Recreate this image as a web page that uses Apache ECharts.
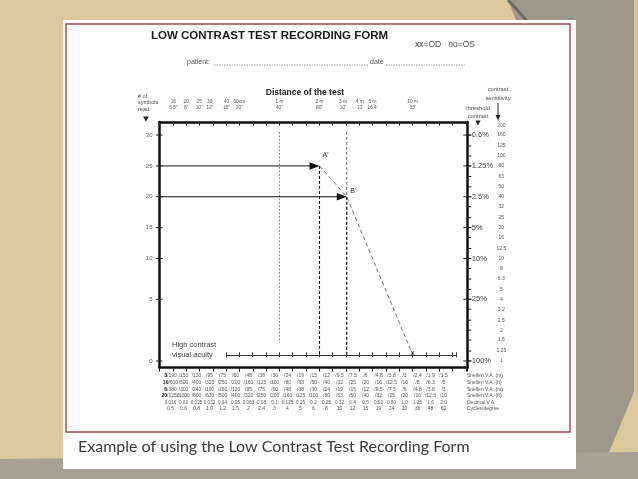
<!DOCTYPE html>
<html><head><meta charset="utf-8">
<script src="https://cdn.jsdelivr.net/npm/echarts@6/dist/echarts.min.js"></script>
<style>html,body{margin:0;padding:0;background:#dbc89b;}#c{width:638px;height:479px;}</style>
</head><body><div id="c"></div>
<script>
// ---------- data read from the form ----------
const symbolsRead = [30, 25, 20, 15, 10, 5, 0];
const thresholdSensitivity = [160, 80, 40, 20, 10, 4, 1];
const thresholdContrast = ['0.6%', '1.25%', '2.5%', '5%', '10%', '25%', '100%'];
const sensitivityScale = [200,160,125,100,80,63,50,40,32,25,20,16,12.5,10,8,6.3,5,4,3.2,2.5,2,1.6,1.25,1];

const distanceCm = [16, 20, 25, 30, 40, 50, 100, 200, 300, 400, 500, 1000];
const distanceMetric = ['16', '20', '25', '30', '40', '50cm', '1 m', '2 m', '3 m', '4 m', '5 m', '10 m'];
const distanceImperial = ['6.5"', '8"', '10"', '12"', '16"', '20"', '40"', '80"', "10'", '13', "16.4'", "33'"];

const referenceLineCm = [100, 320];
const referenceLineTopSens = [172, 172];
const referenceLineBottomSens = [1.5, 1.15];

const highContrastLevel = 1.15;
const pointNames = ["A'", "B'", 'x'];
const pointDistanceCm = [200, 320, 1000];
const pointSensitivity = [80, 40, 1.15];

const snellenNumerators = [3, 10, 6, 20];
const snellen3m  = ['190','150','120','95','75','60','48','38','30','24','19','15','12','9.5','7.5','6','4.8','3.8','3','2.4','1.9','1.5'];
const snellen10ft = ['600','500','400','320','250','200','160','125','100','80','63','50','40','32','25','20','16','12.5','10','8','6.3','5'];
const snellen6m  = ['380','300','240','190','150','120','95','75','60','48','38','30','24','19','15','12','9.5','7.5','6','4.8','3.8','3'];
const snellen20ft = ['1250','1000','800','630','500','400','320','250','200','160','125','100','80','63','50','40','32','25','20','16','12.5','10'];
const decimalVA = ['0.016','0.02','0.025','0.032','0.04','0.05','0.063','0.08','0.1','0.125','0.16','0.2','0.25','0.32','0.4','0.5','0.63','0.80','1.0','1.25','1.6','2.0'];
const cyclesPerDegree = ['0.5','0.6','0.8','1.0','1.2','1.5','2','2.4','3','4','5','6','8','10','12','15','19','24','30','38','48','60'];
const rowNames = ['Snellen V.A. (m)', 'Snellen V.A. (ft)', 'Snellen V.A. (m)', 'Snellen V.A. (ft)', 'Decimal V.A.', 'Cycles/degree'];

// ---------- helpers ----------
const FONT = 'Liberation Sans';
const tableRows = [snellen3m, snellen10ft, snellen6m, snellen20ft, decimalVA, cyclesPerDegree];
function txt(x, y, text, size, o) {
  return { type: 'text', x: x, y: y, silent: true, z2: 10,
    style: Object.assign({ text: text, fill: '#4a4a4a', fontSize: size, fontFamily: FONT,
      align: 'center', verticalAlign: 'middle' }, o || {}) };
}
function seg(x1, y1, x2, y2, stroke, w, dash) {
  const s = { stroke: stroke, lineWidth: w };
  if (dash) s.lineDash = dash;
  return { type: 'line', silent: true, shape: { x1: x1, y1: y1, x2: x2, y2: y2 }, style: s };
}
function G(x, y, text, size, o) { const t = txt(x, y, text, size, o); t.z = 20; return t; }

const tableCells = [];
tableRows.forEach((row, r) => row.forEach((v, c) => tableCells.push([c, r])));

const chart = echarts.init(document.getElementById('c'), null, { renderer: 'canvas' });

const axisBlack = { color: '#111', width: 2.5 };
const hiddenBits = { axisLabel: { show: false }, splitLine: { show: false } };

const option = {
  animation: false,
  backgroundColor: '#dbc89b',
  graphic: { elements: [
    { type: 'polygon', z: -100, silent: true, shape: { points: [[508,0],[634,0],[634,392],[598,479],[520,479],[520,30]] }, style: { fill: '#9e988b' } },
    { type: 'line', z: -99, silent: true, shape: { x1: 508, y1: 0, x2: 530, y2: 24 }, style: { stroke: '#6f6a60', lineWidth: 3 } },
    { type: 'polygon', z: -100, silent: true, shape: { points: [[0,459],[638,452],[638,479],[0,479]] }, style: { fill: '#a7a194' } },
    { type: 'rect', z: -90, silent: true, shape: { x: 63, y: 20, width: 513, height: 449 }, style: { fill: '#ffffff' } },
    { type: 'rect', z: -89, silent: true, shape: { x: 66, y: 24, width: 504, height: 408 }, style: { fill: 'none', stroke: '#9e4650', lineWidth: 1.4 } },
    G(151, 36, 'LOW CONTRAST TEST RECORDING FORM', 11.5, { fontWeight: 'bold', fill: '#1a1a1a', align: 'left' }),
    G(415, 44.5, 'xx=OD   oo=OS', 8.5, { align: 'left', fill: '#444' }),
    G(187, 62.5, 'patient:', 7, { align: 'left', fill: '#555' }),
    { type: 'line', z: 20, silent: true, shape: { x1: 214, y1: 65, x2: 368, y2: 65 }, style: { stroke: '#888', lineWidth: 0.8, lineDash: [1.5, 1] } },
    G(370, 62.5, 'date', 7, { align: 'left', fill: '#555' }),
    { type: 'line', z: 20, silent: true, shape: { x1: 386, y1: 65, x2: 466, y2: 65 }, style: { stroke: '#888', lineWidth: 0.8, lineDash: [1.5, 1] } },
    G(305, 92.5, 'Distance of the test', 8.5, { fontWeight: 'bold', fill: '#222' }),
    G(138, 96, '# of', 5.5, { align: 'left' }),
    G(138, 102.5, 'symbols', 5.5, { align: 'left' }),
    G(138, 109, 'read', 5.5, { align: 'left' }),
    { type: 'polygon', z: 20, silent: true, shape: { points: [[143,116.5],[149,116.5],[146,121.5]] }, style: { fill: '#222' } },
    G(498, 89, 'contrast', 5.8),
    G(498, 98.5, 'sensitivity', 5.8),
    { type: 'line', z: 20, silent: true, shape: { x1: 498, y1: 103, x2: 498, y2: 116 }, style: { stroke: '#222', lineWidth: 1 } },
    { type: 'polygon', z: 20, silent: true, shape: { points: [[495.5,115],[500.5,115],[498,120.5]] }, style: { fill: '#222' } },
    G(478, 108.5, 'threshold', 5.8),
    G(478, 116.5, 'contrast', 5.8),
    { type: 'polygon', z: 20, silent: true, shape: { points: [[475.5,120.5],[480.5,120.5],[478,125.5]] }, style: { fill: '#222' } },
    G(172, 345, 'High contrast', 7.5, { align: 'left', fill: '#444' }),
    G(172, 355, 'visual acuity', 7.5, { align: 'left', fill: '#444' }),
    G(78, 447, 'Example of using the Low Contrast Test Recording Form', 16, { align: 'left', fill: '#3a3a3a', fontFamily: 'Lato' })
  ] },
  grid: [
    { left: 159.5, top: 122, width: 307.8, height: 245.5, containLabel: false, outerBoundsMode: 'none' },
    { left: 226.1, top: 353.8, width: 230.5, height: 1, containLabel: false, outerBoundsMode: 'none' },
    { left: 164, top: 372.7, width: 286, height: 39.6, containLabel: false, outerBoundsMode: 'none' }
  ],
  xAxis: [
    { gridIndex: 0, type: 'log', logBase: 10, min: 12.589, max: 2570.4, position: 'bottom', show: false, axisLine: { onZero: false } },
    Object.assign({ gridIndex: 0, type: 'value', position: 'top', min: -1, max: 22.1, interval: 1,
      axisLine: { show: true, onZero: false, lineStyle: axisBlack },
      axisTick: { show: true, inside: true, length: 3.5, lineStyle: { color: '#222', width: 1 } } }, hiddenBits),
    Object.assign({ gridIndex: 0, type: 'value', position: 'bottom', min: -1, max: 22.1, interval: 1,
      axisLine: { show: true, onZero: false, lineStyle: axisBlack },
      axisTick: { show: true, inside: false, length: 4, lineStyle: { color: '#222', width: 1 } } }, hiddenBits),
    Object.assign({ gridIndex: 1, type: 'value', position: 'bottom', min: 4, max: 21.3, interval: 1,
      axisLine: { show: true, onZero: false, lineStyle: { color: '#333', width: 1 } },
      axisTick: { show: true, inside: false, length: 2.5, lineStyle: { color: '#333', width: 1 } } }, hiddenBits),
    Object.assign({ gridIndex: 1, type: 'value', position: 'bottom', min: 4, max: 21.3, interval: 1,
      axisLine: { show: false, onZero: false },
      axisTick: { show: true, inside: true, length: 2.5, lineStyle: { color: '#333', width: 1 } } }, hiddenBits),
    { gridIndex: 2, type: 'value', min: -0.5, max: 21.5, show: false, axisLine: { onZero: false } }
  ],
  yAxis: [
    Object.assign({ gridIndex: 0, type: 'log', logBase: 10, min: 0.864, max: 214.6, position: 'left',
      axisLine: { show: true, onZero: false, lineStyle: axisBlack }, axisTick: { show: false } }, hiddenBits),
    Object.assign({ gridIndex: 0, type: 'log', logBase: 10, min: 0.864, max: 214.6, position: 'right',
      axisLine: { show: true, onZero: false, lineStyle: axisBlack }, axisTick: { show: false } }, hiddenBits),
    { gridIndex: 1, type: 'value', min: 0, max: 1, show: false, axisLine: { onZero: false } },
    { gridIndex: 2, type: 'value', min: -0.5, max: 5.5, inverse: true, show: false, axisLine: { onZero: false } }
  ],
  series: [
    { // left "# of symbols" and right threshold contrast labels
      type: 'custom', name: 'threshold', xAxisIndex: 0, yAxisIndex: 0, clip: false, silent: true, z: 5,
      data: thresholdSensitivity.map(s => [100, s]),
      renderItem(params, api) {
        const i = params.dataIndex, cs = params.coordSys;
        const y = api.coord([100, api.value(1)])[1];
        const L = cs.x, R = cs.x + cs.width;
        return { type: 'group', children: [
          seg(L - 3.5, y, L + 3, y, '#222', 1),
          txt(L - 7, y, String(symbolsRead[i]), 6, { align: 'right', fill: '#555' }),
          seg(R - 4, y, R + 4, y, '#222', 1),
          txt(R + 4.5, y, thresholdContrast[i], 7.5, { align: 'left', fill: '#444' })
        ] };
      }
    },
    { // contrast sensitivity scale
      type: 'custom', name: 'sensitivity', xAxisIndex: 0, yAxisIndex: 0, clip: false, silent: true, z: 5,
      data: sensitivityScale.map(s => [100, s]),
      renderItem(params, api) {
        const i = params.dataIndex, cs = params.coordSys;
        const s = api.value(1);
        const y = api.coord([100, s])[1];
        const R = cs.x + cs.width;
        const ch = [txt(R + 34, y, String(sensitivityScale[i]), 5, { fill: '#555' })];
        if (s <= 160) ch.push(seg(R, y, R + 4, y, '#222', 1));
        return { type: 'group', children: ch };
      }
    },
    { // distance labels on top
      type: 'custom', name: 'distance', xAxisIndex: 0, yAxisIndex: 0, clip: false, silent: true, z: 5,
      data: distanceCm.map(d => [d, 100]),
      renderItem(params, api) {
        const i = params.dataIndex, cs = params.coordSys;
        const x = api.coord([api.value(0), 100])[0];
        return { type: 'group', children: [
          txt(x, cs.y - 20.5, distanceMetric[i], 4.8, { fill: '#555' }),
          txt(x, cs.y - 14.8, distanceImperial[i], 4.8, { fill: '#555' })
        ] };
      }
    },
    { // dashed reference lines of the form (1 m, 3 m)
      type: 'custom', name: 'reference', xAxisIndex: 0, yAxisIndex: 0, clip: false, silent: true, z: 3,
      data: referenceLineCm.map((d, i) => [d, referenceLineTopSens[i], referenceLineBottomSens[i]]),
      renderItem(params, api) {
        const i = params.dataIndex;
        const p1 = api.coord([api.value(0), api.value(1)]);
        const p2 = api.coord([api.value(0), api.value(2)]);
        return i === 0 ? seg(p1[0], p1[1], p2[0], p2[1], '#8a8a8a', 1, [2, 1.5])
                       : seg(p1[0], p1[1], p2[0], p2[1], '#666', 1, [3, 2]);
      }
    },
    { // drop lines from measured points to the high contrast line
      type: 'custom', name: 'drop', xAxisIndex: 0, yAxisIndex: 0, clip: false, silent: true, z: 4,
      data: pointDistanceCm.slice(0, 2).map((d, i) => [d, pointSensitivity[i]]),
      renderItem(params, api) {
        const p = api.coord([api.value(0), api.value(1)]);
        const b = api.coord([api.value(0), highContrastLevel]);
        return seg(p[0], p[1], b[0], b[1], '#111', 1, [3, 2]);
      }
    },
    { // arrows from the # of symbols axis
      type: 'custom', name: 'arrows', xAxisIndex: 0, yAxisIndex: 0, clip: false, silent: true, z: 6,
      data: pointDistanceCm.slice(0, 2).map((d, i) => [d, pointSensitivity[i]]),
      renderItem(params, api) {
        const cs = params.coordSys;
        const p = api.coord([api.value(0), api.value(1)]);
        return { type: 'group', children: [
          seg(cs.x, p[1], p[0] - 8, p[1], '#111', 1),
          { type: 'polygon', silent: true, shape: { points: [[p[0] - 10, p[1] - 3.7], [p[0], p[1]], [p[0] - 10, p[1] + 3.7]] }, style: { fill: '#111' } }
        ] };
      }
    },
    { // curve through the measured points
      type: 'line', name: 'result', xAxisIndex: 0, yAxisIndex: 0, silent: true, z: 4,
      symbol: 'none',
      lineStyle: { color: '#707070', width: 1, type: [4, 3] },
      data: pointDistanceCm.map((d, i) => [d, pointSensitivity[i]])
    },
    { // point names
      type: 'custom', name: 'pointNames', xAxisIndex: 0, yAxisIndex: 0, clip: false, silent: true, z: 7,
      data: pointDistanceCm.map((d, i) => [d, pointSensitivity[i]]),
      renderItem(params, api) {
        const i = params.dataIndex;
        const p = api.coord([api.value(0), api.value(1)]);
        if (i === 0) return txt(p[0] + 6, p[1] - 11, pointNames[i], 7, { fill: '#333' });
        if (i === 1) return txt(p[0] + 6.5, p[1] - 6, pointNames[i], 7, { fill: '#333' });
        return txt(p[0], p[1] - 1.5, pointNames[i], 8, { fill: '#222' });
      }
    },
    { // visual acuity table
      type: 'custom', name: 'table', xAxisIndex: 5, yAxisIndex: 3, clip: false, silent: true, z: 5,
      data: tableCells,
      renderItem(params, api) {
        const c = api.value(0), r = api.value(1);
        const p = api.coord([c, r]);
        const v = tableRows[r][c];
        if (r < 4) {
          const t = c === 0 ? '{b|' + snellenNumerators[r] + '}/' + v : '/' + v;
          return txt(p[0], p[1], t, 5, { fill: '#555', rich: { b: { fontWeight: 'bold', fill: '#111', fontSize: 5, fontFamily: FONT } } });
        }
        return txt(p[0], p[1], v, r === 4 ? 4.6 : 5, { fill: '#555' });
      }
    },
    { // table row names
      type: 'custom', name: 'rowNames', xAxisIndex: 5, yAxisIndex: 3, clip: false, silent: true, z: 5,
      data: rowNames.map((n, r) => [21, r]),
      renderItem(params, api) {
        const cs = params.coordSys;
        const p = api.coord([api.value(0), api.value(1)]);
        return txt(cs.x + cs.width + 17, p[1], rowNames[params.dataIndex], 5, { align: 'left', fill: '#555' });
      }
    }
  ]
};
chart.setOption(option);
</script>
</body></html>
